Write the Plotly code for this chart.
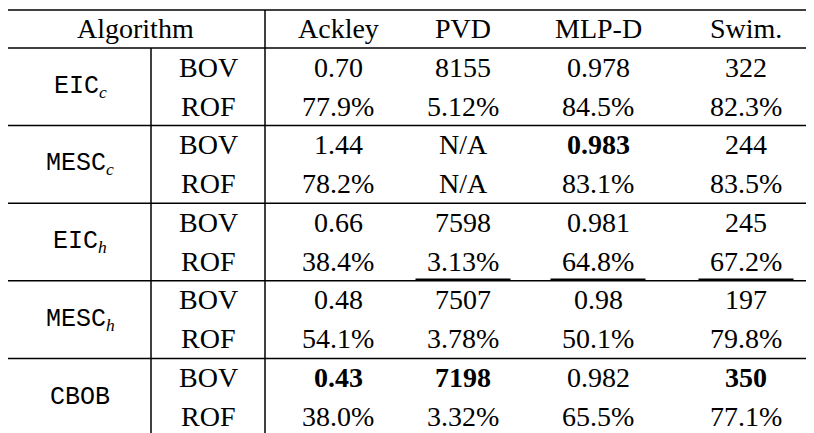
import plotly.graph_objects as go

algorithms = ["EIC", "MESC", "EIC", "MESC", "CBOB"]
alg_subs = ["c", "c", "h", "h", ""]
metrics = ["BOV", "ROF"]
benchmarks = ["Ackley", "PVD", "MLP-D", "Swim."]
bov = [["0.70", "8155", "0.978", "322"],
       ["1.44", "N/A", "0.983", "244"],
       ["0.66", "7598", "0.981", "245"],
       ["0.48", "7507", "0.98", "197"],
       ["0.43", "7198", "0.982", "350"]]
rof = [["77.9%", "5.12%", "84.5%", "82.3%"],
       ["78.2%", "N/A", "83.1%", "83.5%"],
       ["38.4%", "3.13%", "64.8%", "67.2%"],
       ["54.1%", "3.78%", "50.1%", "79.8%"],
       ["38.0%", "3.32%", "65.5%", "77.1%"]]
bold_cells = {(1, 0, 2), (4, 0, 0), (4, 0, 1), (4, 0, 3)}  # (group, metric, col)
underline_cells = {(2, 1, 1), (2, 1, 2), (2, 1, 3), (4, 1, 0)}

W, H = 814, 433
col_x = [330, 455, 590, 738]
name_x, metric_x = 72, 200
top, head_bot, grp_h = 2, 40, 77.6
serif = "Liberation Serif, Times New Roman, serif"
mono = "Liberation Mono, Courier New, monospace"
fs = 28

fig = go.Figure()
ann, shapes = [], []

def txt(x, y, s, font=serif, size=fs):
    ann.append(dict(x=x, y=y, xref="x", yref="y", text=s, showarrow=False,
                    font=dict(family=font, size=size, color="black"),
                    xanchor="center", yanchor="middle"))

def hline(y, x0=0, x1=810, w=1.5):
    shapes.append(dict(type="line", xref="x", yref="y", x0=x0, x1=x1, y0=y, y1=y,
                       line=dict(color="black", width=w)))

def vline(x, y0, y1):
    shapes.append(dict(type="line", xref="x", yref="y", x0=x, x1=x, y0=y0, y1=y1,
                       line=dict(color="black", width=1.5)))

txt(127, 20, "Algorithm")
for b, x in zip(benchmarks, col_x):
    txt(x, 20, b)
hline(top)
hline(head_bot)
vline(257, top, head_bot + 5 * grp_h)

for g in range(5):
    g0 = head_bot + g * grp_h
    sub = (f"<sub><span style='font-family:Liberation Serif'><i>{alg_subs[g]}</i></span></sub>"
           if alg_subs[g] else "")
    txt(name_x, g0 + grp_h / 2, algorithms[g] + sub, font=mono, size=25)
    vline(143, g0, g0 + grp_h)
    for m, vals in enumerate([bov[g], rof[g]]):
        y = g0 + 19 + m * 39
        txt(metric_x, y, metrics[m])
        for c, v in enumerate(vals):
            s = f"<b>{v}</b>" if (g, m, c) in bold_cells else v
            txt(col_x[c], y, s)
            if (g, m, c) in underline_cells:
                hw = len(v) * 9.5
                hline(y + 18, col_x[c] - hw, col_x[c] + hw, w=1.5)
    hline(g0 + grp_h)

fig.update_layout(width=W, height=H, margin=dict(l=0, r=0, t=0, b=0),
                  plot_bgcolor="white", paper_bgcolor="white",
                  xaxis=dict(range=[0, W], visible=False, fixedrange=True),
                  yaxis=dict(range=[H, 0], visible=False, fixedrange=True),
                  annotations=ann, shapes=shapes, showlegend=False)
fig.write_html("out.html")
